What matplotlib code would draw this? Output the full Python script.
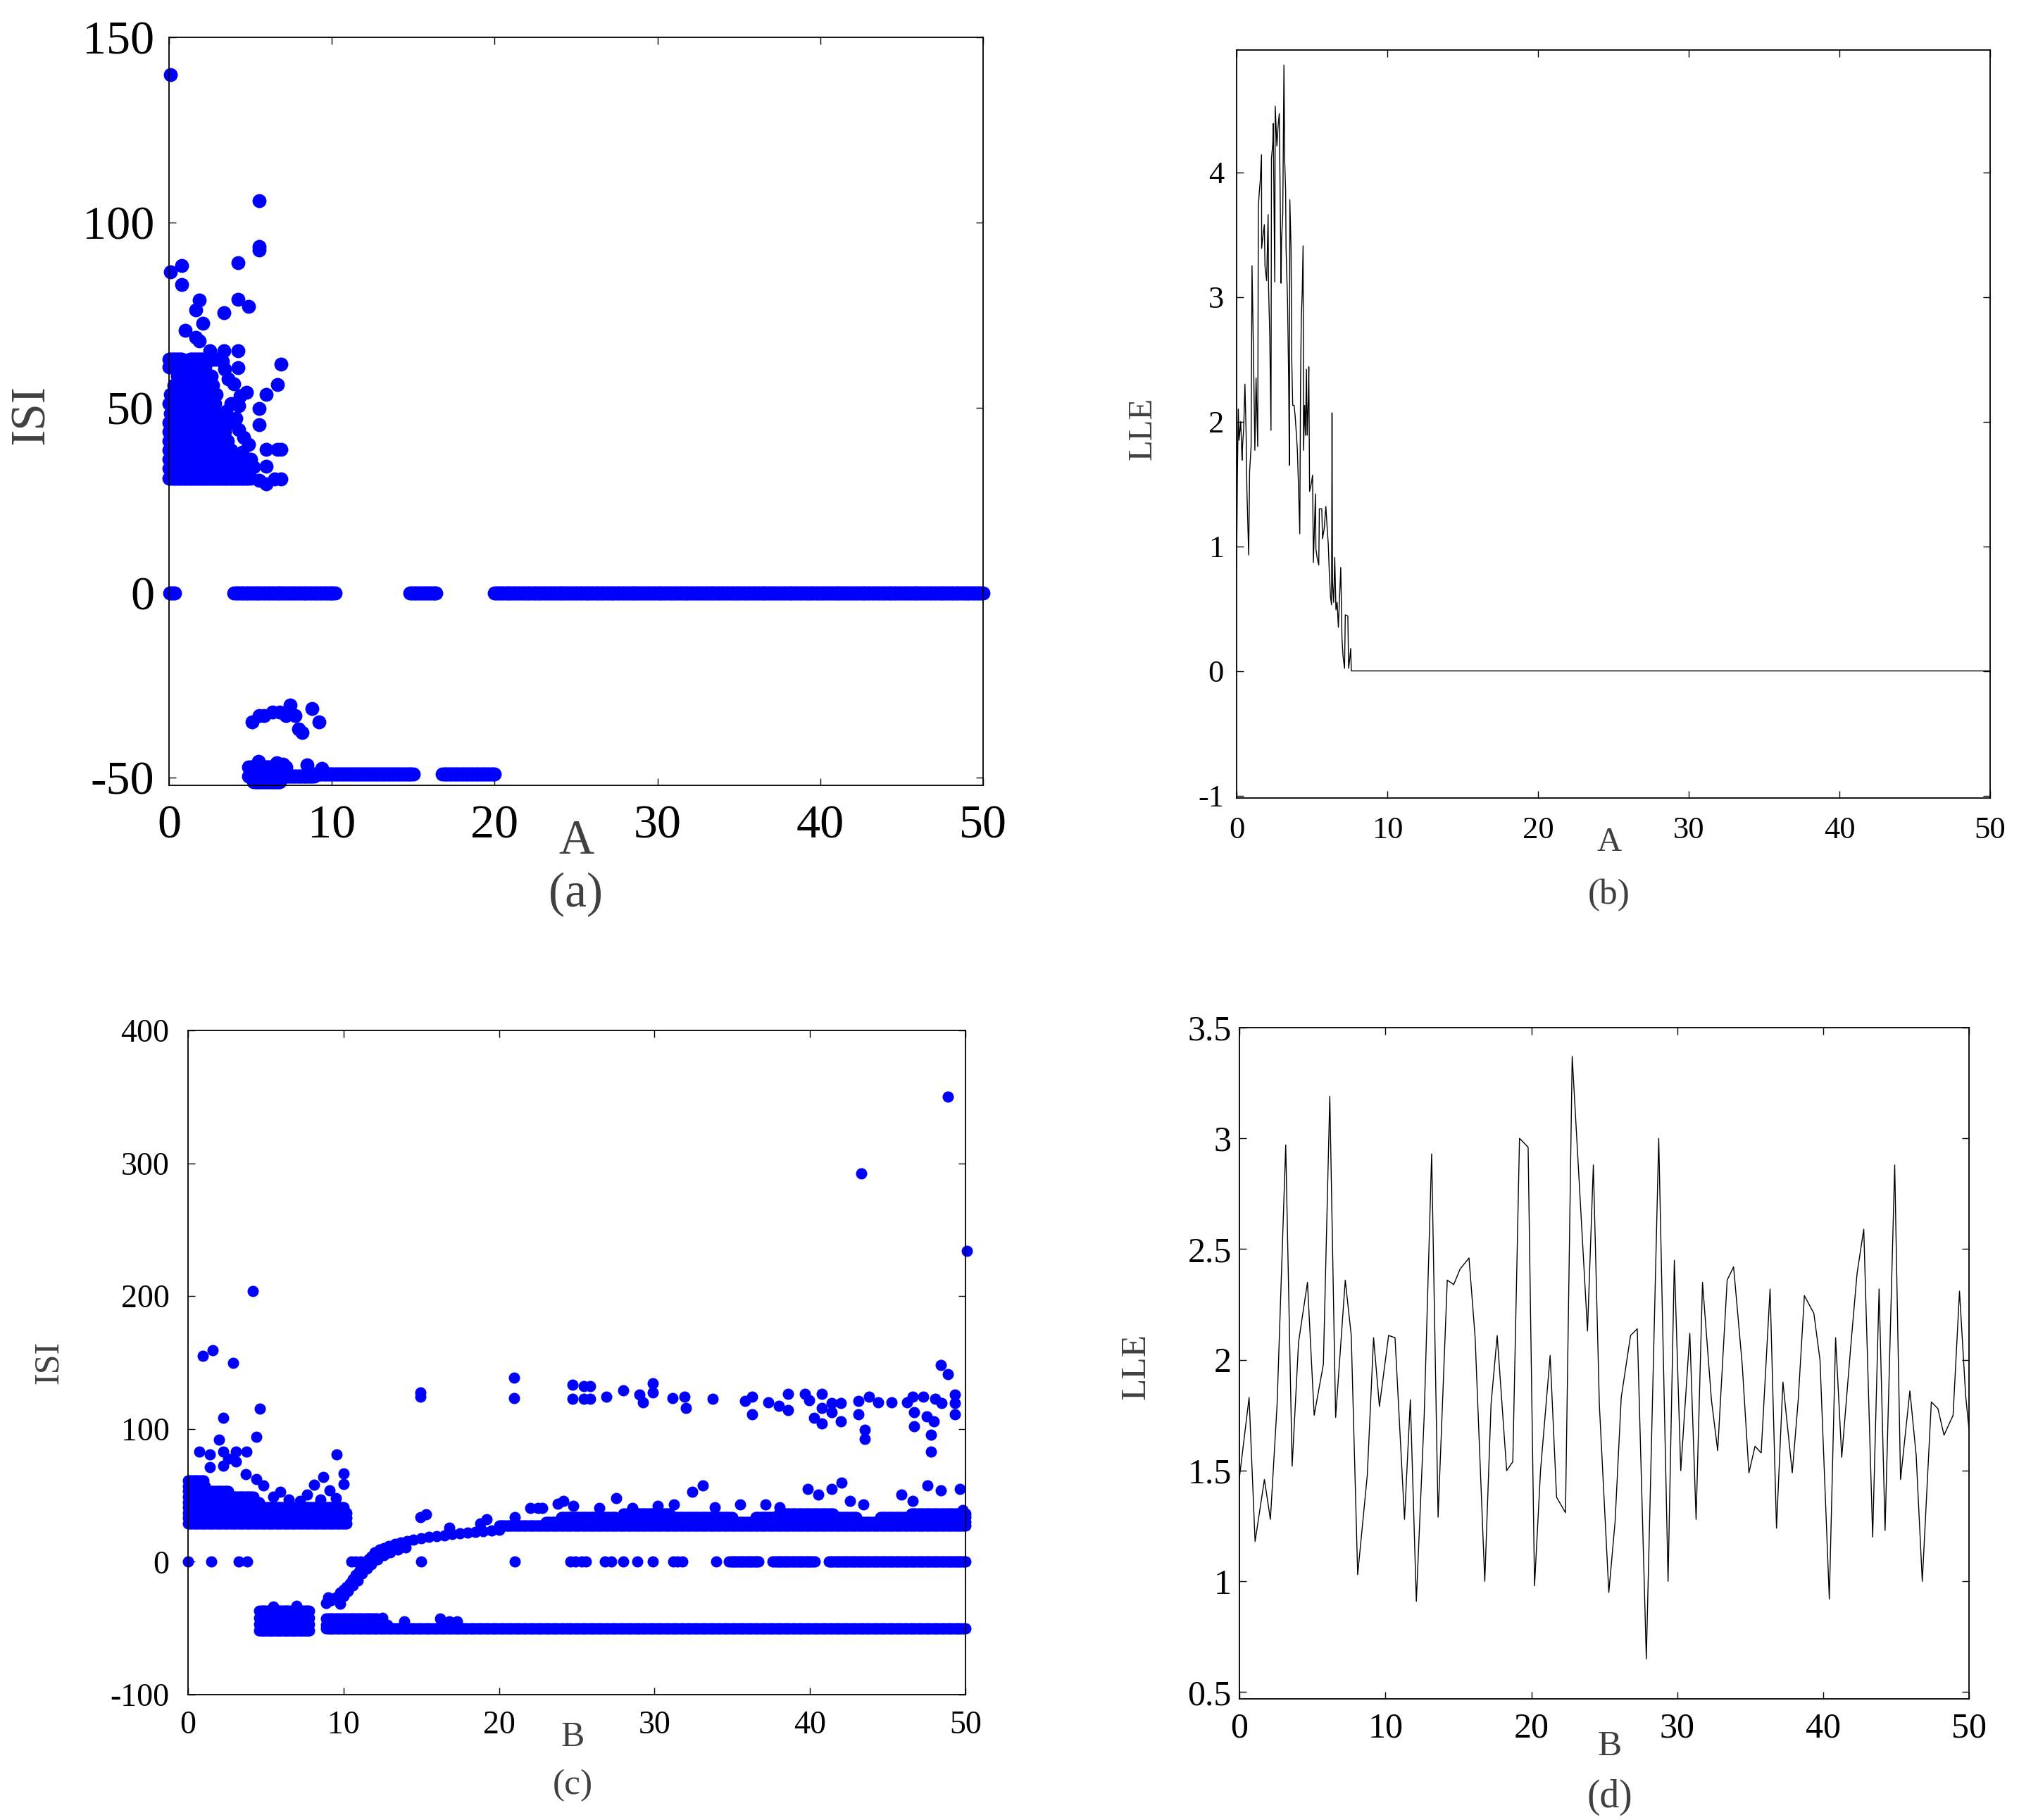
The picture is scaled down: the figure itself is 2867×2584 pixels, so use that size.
import numpy as np
import matplotlib
matplotlib.use("Agg")
import matplotlib.pyplot as plt
from matplotlib.ticker import FuncFormatter

plt.rcParams['font.family'] = ['Liberation Serif', 'DejaVu Serif']
plt.rcParams['axes.unicode_minus'] = False

BLUE = '#0000ff'
LABEL_GREY = '#404040'
SWEEP_STEP = 0.1

# ---------------- (a) ISI vs A ----------------
# constant-ISI runs of the sweep: (ISI, A start, A end)
isi_a_runs = [
    (0, 0.05, 0.35), (0, 4.0, 10.2), (0, 14.8, 16.4), (0, 20.0, 50.0),
    (-49, 8.9, 15.0), (-49, 16.8, 20.0),
    (-47, 4.9, 7.2), (-49.5, 4.9, 8.9), (-51, 5.2, 6.8),
    (31, 0.0, 5.0), (33.5, 0.0, 4.8), (36, 0.0, 4.5), (38.5, 0.0, 3.8),
    (41, 0.0, 3.6), (43.5, 0.0, 3.4), (46, 0.0, 3.2), (48.5, 0.1, 3.0),
    (51, 0.0, 2.8), (53.5, 0.1, 0.9), (53.5, 1.4, 2.9), (56, 0.3, 0.9),
    (56, 1.4, 2.7), (58.5, 0.5, 2.6), (61, 0.0, 2.2), (63, 0.0, 0.8),
    (63, 1.3, 2.9),
]
# scattered points (A, ISI)
isi_a_points = [
    (0.10, 140.0), (5.54, 105.9), (5.54, 92.5), (5.54, 93.5), (0.10, 86.6),
    (0.76, 88.3), (0.76, 83.3), (4.26, 89.2), (1.87, 79.1), (1.65, 76.4),
    (2.09, 72.7), (0.99, 70.9), (1.65, 68.9), (1.87, 68.0), (3.38, 75.6),
    (4.26, 79.3), (4.88, 77.4), (3.38, 65.4), (4.26, 65.4), (2.53, 65.4),
    (6.87, 61.7), (4.26, 60.8), (6.65, 56.2), (5.99, 53.5), (4.37, 53.1),
    (4.74, 54.2), (5.54, 49.7), (5.54, 45.3), (5.99, 38.7), (6.65, 38.7),
    (6.87, 38.7), (5.99, 34.1), (5.54, 30.4), (5.99, 29.5), (6.87, 30.8),
    (6.50, 30.8), (3.78, 45.9), (3.63, 57.7), (3.41, 60.4), (4.1, 47.0),
    (4.3, 44.0), (4.6, 42.0), (4.9, 40.0), (5.0, 36.0), (4.5, 38.0),
    (3.8, 51.0), (3.5, 49.0), (4.3, 50.5), (4.0, 56.5), (3.3, 62.5),
    (5.2, 34.0),
    (5.10, -34.8), (5.54, -33.1), (5.84, -33.1), (6.35, -32.2), (6.79, -32.2),
    (7.16, -33.1), (7.46, -30.4), (7.75, -33.1), (7.97, -36.7), (8.19, -37.7),
    (8.78, -31.2), (9.22, -34.9),
    (5.5, -45.5), (6.6, -46.0), (7.0, -46.3), (8.5, -46.5), (9.4, -47.5),
]

# ---------------- (b) LLE vs A ----------------
lle_a_trace = [
    (0.00, 0.83), (0.05, 1.57), (0.11, 2.10), (0.16, 1.85), (0.27, 2.00),
    (0.36, 1.69), (0.39, 1.80), (0.47, 1.95), (0.55, 2.30), (0.63, 1.90),
    (0.68, 1.45), (0.80, 0.93), (0.86, 1.60), (0.96, 1.80), (1.02, 3.25),
    (1.11, 2.60), (1.21, 1.77), (1.29, 2.35), (1.40, 1.80), (1.44, 3.72),
    (1.49, 3.82), (1.57, 3.94), (1.65, 4.14), (1.66, 3.39), (1.74, 3.48),
    (1.84, 3.58), (1.88, 3.25), (1.99, 3.13), (2.09, 3.66), (2.12, 3.07),
    (2.20, 2.68), (2.28, 1.93), (2.31, 4.11), (2.40, 4.23), (2.43, 4.39),
    (2.53, 3.12), (2.56, 4.53), (2.67, 4.21), (2.75, 4.37), (2.83, 4.47),
    (2.95, 3.11), (2.98, 3.46), (3.06, 3.66), (3.14, 4.86), (3.19, 4.09),
    (3.25, 3.86), (3.28, 3.39), (3.38, 2.95), (3.45, 2.36), (3.50, 1.65),
    (3.53, 3.78), (3.61, 3.39), (3.66, 2.48), (3.72, 2.13), (3.81, 2.13),
    (3.88, 2.05), (3.97, 1.89), (4.03, 1.77), (4.10, 1.50), (4.19, 1.10),
    (4.24, 2.28), (4.29, 2.83), (4.35, 3.03), (4.41, 3.41), (4.44, 1.77),
    (4.51, 2.13), (4.57, 1.89), (4.63, 2.42), (4.68, 1.89), (4.76, 2.20),
    (4.79, 2.44), (4.84, 1.44), (4.95, 1.50), (5.04, 1.57), (5.09, 0.87),
    (5.15, 1.10), (5.23, 1.42), (5.26, 0.98), (5.34, 0.91), (5.45, 0.85),
    (5.49, 1.30), (5.65, 1.30), (5.70, 1.06), (5.81, 1.14), (5.92, 1.32),
    (6.00, 1.16), (6.08, 1.02), (6.15, 0.79), (6.23, 0.59), (6.30, 0.53),
    (6.33, 2.07), (6.36, 0.71), (6.44, 0.55), (6.51, 0.91), (6.59, 0.49),
    (6.67, 0.55), (6.75, 0.35), (6.83, 0.59), (6.91, 0.83), (6.99, 0.26),
    (7.06, 0.12), (7.16, 0.02), (7.21, 0.45), (7.38, 0.44), (7.43, 0.02),
    (7.49, 0.08), (7.57, 0.18), (7.61, 0.00), (50.0, 0.00),
]

# ---------------- (c) ISI vs B ----------------
isi_b_runs = [
    (0, 34.8, 36.7), (0, 37.6, 40.3), (0, 41.2, 50.0),
    (-37, 4.6, 7.8), (-42, 4.6, 7.8), (-47, 4.6, 7.8), (-52, 4.6, 7.8),
    (-43, 8.9, 12.2), (-47.5, 8.9, 12.8), (-50, 8.9, 50.0),
    (29, 0.0, 10.2), (33, 0.0, 10.2), (37, 0.0, 10.2), (41, 0.0, 10.0),
    (45, 0.0, 4.6), (49, 0.0, 4.2), (53, 0.0, 2.6), (57, 0.0, 1.1), (61, 0.0, 1.0),
    (27, 20.0, 50.0), (30, 23.0, 50.0),
    (33.5, 24.0, 27.5), (33.5, 29.5, 35.0), (33.5, 36.5, 43.0), (33.5, 44.5, 50.0),
    (36.5, 28.0, 31.0), (36.5, 38.0, 41.5), (36.5, 46.5, 50.0),
]
# rising branch after B = 9
curve_b = [8.9, 9.2, 9.5, 9.8, 10.0, 10.2, 10.4, 10.6, 10.8, 11.0, 11.2, 11.4,
           11.6, 11.8, 12.0, 12.3, 12.6, 12.9, 13.3, 13.7, 14.1, 14.5, 15.0,
           15.5, 16.0, 16.5, 17.0, 17.5, 18.0, 18.5, 19.0, 19.5, 20.0]
curve_isi = [-31, -29, -27, -24, -21, -19, -16, -13, -10, -7, -4, -1,
             2, 4, 7, 9, 10.5, 12, 13.5, 14.7, 15.5, 16.5, 17.5,
             18.5, 19.3, 20, 20.8, 21.3, 21.8, 22.3, 22.8, 23.3, 23.8]
isi_b_points = [
    # zero level
    (0.0, 0), (1.5, 0), (3.25, 0), (3.8, 0), (15.0, 0), (21.0, 0), (24.6, 0),
    (24.9, 0), (25.3, 0), (25.6, 0), (26.8, 0), (27.2, 0), (27.97, 0), (28.9, 0),
    (29.88, 0), (31.2, 0), (31.5, 0), (31.8, 0), (33.97, 0),
    (10.5, 0), (10.8, 0), (11.1, 0),
    # second strand of the rising branch
    (9.0, -27), (9.77, -23), (9.77, -31.5), (10.0, -26), (10.3, -22), (10.6, -18),
    (10.9, -14), (11.2, -9), (11.5, -5), (11.8, -2), (12.2, 2), (12.6, 5),
    (13.0, 7), (13.5, 9), (14.0, 11),
    # extra points near -50
    (12.5, -42), (13.9, -45), (16.2, -43), (16.8, -45), (17.3, -45), (7.0, -33), (5.5, -34),
    # above the chaotic block
    (0.95, 155), (1.6, 159.5), (2.91, 150), (4.18, 203.7), (4.62, 115.2),
    (2.25, 108.5), (4.41, 94.1), (2.01, 91.8), (0.75, 83.1), (1.41, 80.7),
    (2.25, 83.1), (3.07, 83.1), (3.76, 83.1), (1.41, 71.4), (3.10, 75.7),
    (2.58, 77.4), (2.25, 72.4), (9.58, 80.7), (10.0, 66.3), (8.69, 64.0),
    (8.09, 58.0), (10.0, 58.6), (9.12, 53.9), (7.65, 50.6), (5.93, 52.9),
    (4.87, 57.3), (3.73, 65.7), (4.38, 62.3), (6.5, 47), (7.2, 46), (8.5, 47),
    (9.5, 48), (5.5, 49),
    # above the slow branch
    (14.95, 33.8), (15.3, 35.5), (16.8, 25.5), (18.8, 28.8), (19.2, 32), (21.0, 33.8),
    (22.0, 40.5), (22.5, 40.5), (22.8, 40.5), (23.8, 43.9), (24.15, 45.6),
    (24.77, 42.2), (26.47, 40.5), (27.54, 47.9), (28.6, 40.5), (30.22, 42.2),
    (31.24, 43.2), (32.44, 52.9), (33.12, 57.3), (33.89, 41.2), (35.51, 43.2),
    (37.13, 43.2), (38.06, 41.2), (39.85, 54.9), (40.53, 50.6), (41.39, 54.9),
    (42.02, 59.6), (42.58, 45.6), (43.44, 43.2), (45.87, 50.6), (46.59, 45.6),
    (47.56, 57.3), (48.43, 53.9), (49.66, 54.9), (49.83, 38.9),
    # upper branch near 120
    (14.95, 124.3), (14.95, 127.6), (20.96, 138.4), (20.96, 123.3), (24.72, 133.3),
    (24.72, 122.6), (25.45, 132), (25.45, 122.6), (25.87, 132), (25.87, 122.6),
    (26.9, 124.3), (27.97, 129.3), (29.03, 126), (29.28, 120), (29.88, 134.3),
    (29.88, 127.6), (31.16, 123.3), (31.93, 124.3), (32.01, 116), (33.72, 122.6),
    (35.81, 121), (36.27, 124.3), (36.27, 110.9), (37.33, 120.3), (37.98, 117.6),
    (38.58, 126.6), (38.58, 114.2), (39.68, 126.6), (39.94, 121.9), (40.28, 108.5),
    (40.76, 126.6), (40.76, 116), (40.76, 104.2), (41.39, 119.3), (41.39, 112.6),
    (41.99, 119.3), (41.99, 105.9), (43.1, 121), (43.1, 110.9), (43.52, 99.2),
    (43.52, 92.5), (43.78, 124.3), (44.37, 120), (45.23, 120), (46.25, 120),
    (46.59, 124.3), (46.68, 112.6), (46.68, 101.8), (47.28, 124.3), (47.53, 109.2),
    (47.78, 95.8), (47.78, 83.1), (47.95, 105.9), (48.04, 122.6), (48.43, 148.4),
    (48.47, 119.3), (48.86, 141), (49.32, 126), (49.32, 119.3), (49.32, 110.9),
    (43.3, 292.5), (48.86, 350.4), (50.1, 233.8),
]

# ---------------- (d) LLE vs B ----------------
lle_b_b = [0.0, 0.66, 1.07, 1.71, 2.12, 2.58, 3.17, 3.61, 4.05, 4.66, 5.12, 5.75,
           6.19, 6.59, 7.25, 7.66, 8.10, 8.76, 9.19, 9.59, 10.22, 10.66, 11.31,
           11.71, 12.12, 12.66, 13.17, 13.61, 14.24, 14.68, 15.12, 15.73, 16.15,
           16.81, 17.24, 17.66, 18.31, 18.73, 19.19, 19.78, 20.22, 20.63, 21.29,
           21.73, 22.34, 22.80, 23.85, 24.25, 24.66, 25.31, 25.74, 26.16, 26.80,
           27.26, 27.88, 28.73, 29.37, 29.80, 30.24, 30.86, 31.29, 31.73, 32.34,
           32.77, 33.42, 33.86, 34.45, 34.91, 35.33, 35.75, 36.36, 36.80, 37.24,
           37.88, 38.29, 38.71, 39.36, 39.78, 40.42, 40.85, 41.27, 41.90, 42.32,
           42.78, 43.39, 43.83, 44.24, 44.90, 45.30, 45.94, 46.37, 46.79, 47.41,
           47.86, 48.28, 48.90, 49.34, 49.76, 50.0]
lle_b_val = [1.47, 1.83, 1.18, 1.46, 1.28, 1.80, 2.97, 1.52, 2.08, 2.35, 1.75, 1.98,
             3.19, 1.74, 2.36, 2.11, 1.03, 1.48, 2.10, 1.79, 2.11, 2.10, 1.28,
             1.82, 0.91, 1.75, 2.93, 1.29, 2.36, 2.34, 2.41, 2.46, 2.10,
             1.00, 1.80, 2.11, 1.50, 1.54, 3.00, 2.96, 0.98, 1.50, 2.02,
             1.38, 1.31, 3.37, 2.13, 2.88, 1.80, 0.95, 1.27, 1.83, 2.11,
             2.14, 0.65, 3.00, 1.00, 2.45, 1.50, 2.12, 1.28, 2.35, 1.82,
             1.59, 2.36, 2.42, 1.98, 1.49, 1.61, 1.58, 2.32, 1.24, 1.90,
             1.49, 1.82, 2.29, 2.21, 2.00, 0.92, 2.10, 1.56, 2.07, 2.39,
             2.59, 1.20, 2.32, 1.23, 2.88, 1.46, 1.86, 1.57, 1.00, 1.81,
             1.78, 1.66, 1.75, 2.31, 1.84, 1.68]


def expand_runs(runs, step):
    xs, ys = [], []
    for y, x0, x1 in runs:
        n = int(round((x1 - x0) / step)) + 1
        xs.extend(np.linspace(x0, x1, n))
        ys.extend([y] * n)
    return xs, ys


def style(ax, tsize, xpad, ypad):
    ax.tick_params(direction='in', top=True, right=True, length=7, width=1.0,
                   labelsize=tsize, colors='black')
    ax.tick_params(axis='x', pad=xpad)
    ax.tick_params(axis='y', pad=ypad)
    for s in ax.spines.values():
        s.set_linewidth(1.3)
    ax.yaxis.set_major_formatter(FuncFormatter(lambda v, p: '%g' % v))
    ax.xaxis.set_major_formatter(FuncFormatter(lambda v, p: '%g' % v))


fig = plt.figure(figsize=(28.67, 25.84), dpi=100)

# (a)
ax = fig.add_axes([0.0837, 0.5685, 0.4032, 0.4110])
rx, ry = expand_runs(isi_a_runs, SWEEP_STEP)
px, py = zip(*isi_a_points)
ax.plot(rx, ry, 'o', ms=13.3, color=BLUE, clip_on=False)
ax.plot(px, py, 'o', ms=13.3, color=BLUE, clip_on=False)
ax.set_xlim(0, 50)
ax.set_ylim(-52, 150)
ax.set_xticks(range(0, 51, 10))
ax.set_yticks([-50, 0, 50, 100, 150])
style(ax, 49, 20, 15)
fig.text(0.0157, 0.7721, 'ISI', rotation=90, ha='center', va='center', fontsize=50, color=LABEL_GREY)
fig.text(0.2853, 0.5375, 'A', ha='center', va='center', fontsize=50, color=LABEL_GREY)
fig.text(0.2853, 0.5085, '(a)', ha='center', va='center', fontsize=50, color=LABEL_GREY)

# (b)
ax = fig.add_axes([0.6125, 0.5615, 0.3732, 0.4110])
bx, by = zip(*lle_a_trace)
ax.plot(bx, by, '-', color='black', lw=1.0)
ax.set_xlim(0, 50)
ax.set_ylim(-1.02, 4.98)
ax.set_xticks(range(0, 51, 10))
ax.set_yticks(range(-1, 5))
style(ax, 32, 19, 13)
fig.text(0.5658, 0.7647, 'LLE', rotation=90, ha='center', va='center', fontsize=35, color=LABEL_GREY)
fig.text(0.797, 0.5372, 'A', ha='center', va='center', fontsize=35, color=LABEL_GREY)
fig.text(0.797, 0.5081, '(b)', ha='center', va='center', fontsize=37, color=LABEL_GREY)

# (c)
ax = fig.add_axes([0.0931, 0.0689, 0.3851, 0.3649])
rx, ry = expand_runs(isi_b_runs, SWEEP_STEP)
px, py = zip(*isi_b_points)
ax.plot(rx, ry, 'o', ms=10.5, color=BLUE, clip_on=False)
ax.plot(curve_b, curve_isi, 'o', ms=10.5, color=BLUE, clip_on=False)
ax.plot(px, py, 'o', ms=10.5, color=BLUE, clip_on=False)
ax.set_xlim(0, 50)
ax.set_ylim(-100, 400)
ax.set_xticks(range(0, 51, 10))
ax.set_yticks(range(-100, 401, 100))
style(ax, 33, 16, 19)
fig.text(0.0244, 0.2512, 'ISI', rotation=90, ha='center', va='center', fontsize=36, color=LABEL_GREY)
fig.text(0.2836, 0.0453, 'B', ha='center', va='center', fontsize=36, color=LABEL_GREY)
fig.text(0.2836, 0.0190, '(c)', ha='center', va='center', fontsize=37, color=LABEL_GREY)

# (d)
ax = fig.add_axes([0.6139, 0.0666, 0.3614, 0.3688])
ax.plot(lle_b_b, lle_b_val, '-', color='black', lw=1.0)
ax.set_xlim(0, 50)
ax.set_ylim(0.47, 3.5)
ax.set_xticks(range(0, 51, 10))
ax.set_yticks([0.5, 1, 1.5, 2, 2.5, 3, 3.5])
style(ax, 36, 14, 8)
fig.text(0.5626, 0.2492, 'LLE', rotation=90, ha='center', va='center', fontsize=37, color=LABEL_GREY)
fig.text(0.7974, 0.0402, 'B', ha='center', va='center', fontsize=37, color=LABEL_GREY)
fig.text(0.7974, 0.0124, '(d)', ha='center', va='center', fontsize=40, color=LABEL_GREY)

fig.savefig('out.png', dpi=100)
